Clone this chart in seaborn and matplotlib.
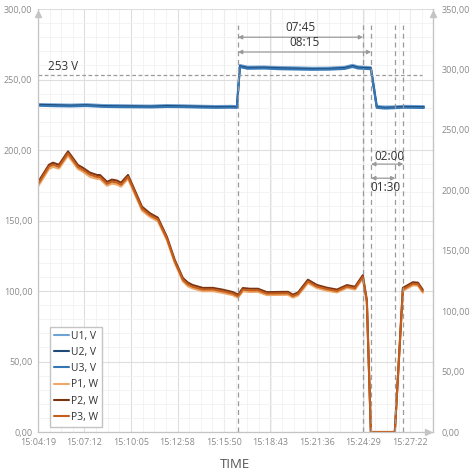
import numpy as np
import pandas as pd
import matplotlib
matplotlib.use("Agg")
import matplotlib.pyplot as plt
import seaborn as sns
from matplotlib.ticker import MultipleLocator, AutoMinorLocator, FuncFormatter

# time in seconds after 15:04:19
tick_labels = ["15:04:19", "15:07:12", "15:10:05", "15:12:58", "15:15:50",
               "15:18:43", "15:21:36", "15:24:29", "15:27:22"]

t_u = [0, 60, 120, 180, 240, 300, 360, 420, 480, 540, 600, 660, 720, 740,
       751, 780, 840, 900, 960, 1020, 1080, 1140, 1170, 1190, 1238, 1260,
       1290, 1320, 1360, 1400, 1435]
U1 = [232.6, 232.4, 232.2, 232.5, 231.9, 231.8, 231.6, 231.5, 231.9, 231.7, 231.4,
      231.2, 231.3, 231.1, 260.3, 259.1, 259.2, 258.8, 258.6, 258.3, 258.4, 259.0,
      260.4, 259.3, 258.7, 231.2, 230.8, 230.9, 231.3, 231.2, 231.1]
U2 = [232.0, 231.8, 231.5, 231.8, 231.2, 231.0, 231.0, 230.8, 231.2, 231.0, 230.8,
      230.5, 230.6, 230.5, 259.5, 258.3, 258.5, 258.0, 257.8, 257.5, 257.6, 258.2,
      259.6, 258.5, 258.0, 230.5, 230.0, 230.2, 230.6, 230.5, 230.4]
U3 = [231.4, 231.1, 230.9, 231.2, 230.6, 230.4, 230.3, 230.2, 230.5, 230.4, 230.1,
      229.9, 230.0, 229.9, 258.8, 257.6, 257.8, 257.3, 257.1, 256.9, 257.0, 257.5,
      258.9, 257.8, 257.3, 229.9, 229.4, 229.6, 230.0, 229.9, 229.8]

t_p = [0, 41, 56, 78, 112, 149, 167, 193, 219, 231, 257, 275, 294, 309, 335,
       387, 416, 446, 480, 509, 539, 558, 576, 613, 651, 688, 725, 744, 762,
       788, 818, 851, 889, 930, 948, 967, 1004, 1037, 1075, 1112, 1149, 1179,
       1208, 1223, 1238, 1327, 1357, 1394, 1413, 1431]
P1 = [174.0, 186.5, 188.0, 186.8, 196.0, 186.5, 184.6, 181.0, 179.5, 179.4, 174.6,
      176.2, 175.5, 174.0, 179.6, 157.0, 152.6, 149.4, 135.8, 119.8, 106.8, 103.3,
      101.8, 99.8, 99.9, 98.6, 97.0, 95.2, 99.8, 99.3, 99.4, 97.1, 97.2, 97.3, 95.3,
      96.8, 105.6, 102.1, 100.2, 99.0, 102.2, 101.0, 108.8, 91.8, 0.0, 0.0, 100.0,
      104.0, 103.8, 98.8]
P2 = [177.0, 189.5, 191.0, 189.5, 199.0, 189.3, 187.4, 184.0, 182.3, 182.2, 177.4,
      179.0, 178.3, 176.8, 182.3, 159.8, 155.2, 152.0, 138.2, 122.0, 109.2, 105.9,
      104.2, 102.2, 102.2, 100.9, 99.2, 97.4, 102.1, 101.6, 101.6, 99.2, 99.3, 99.4,
      97.4, 98.9, 108.0, 104.3, 102.3, 101.0, 104.2, 103.0, 111.2, 93.6, 0.0, 0.0,
      102.2, 106.2, 105.9, 100.9]
P3 = [175.6, 188.2, 189.6, 188.1, 197.6, 187.9, 186.0, 182.6, 180.9, 180.8, 176.0,
      177.6, 176.9, 175.4, 180.9, 158.4, 153.9, 150.7, 137.0, 120.9, 108.0, 104.6,
      103.0, 101.0, 101.1, 99.8, 98.1, 96.3, 101.0, 100.5, 100.5, 98.2, 98.3, 98.4,
      96.4, 97.9, 106.8, 103.2, 101.3, 100.0, 103.2, 102.0, 110.0, 92.7, 0.0, 0.0,
      101.1, 105.1, 104.8, 99.8]

limit_v = 253
t_on = 744          # switch on
d_off1, d_off2 = 465, 495
d_r1, d_r2 = 90, 120

def secs(s):
    h, m, x = (int(v) for v in s.split(":"))
    return (h * 3600 + m * 60 + x) - (15 * 3600 + 4 * 60 + 19)

tick_pos = [secs(s) for s in tick_labels]

names = ["U1, V", "U2, V", "U3, V", "P1, W", "P2, W", "P3, W"]
colors = ["#6fa3d4", "#1f4a78", "#3577b5", "#f0a868", "#7a3412", "#c45e1c"]

frames = []
for n, t, v in zip(names, [t_u, t_u, t_u, t_p, t_p, t_p], [U1, U2, U3, P1, P2, P3]):
    frames.append(pd.DataFrame({"t": t, "val": v, "series": n}))
df = pd.concat(frames, ignore_index=True)

sns.set_style("white")
plt.rcParams["font.family"] = ["Open Sans", "DejaVu Sans"]

fig = plt.figure(figsize=(4.74, 4.74), dpi=100)
ax = fig.add_axes([0.080, 0.0886, 0.8335, 0.8924])

sns.lineplot(data=df, x="t", y="val", hue="series", palette=dict(zip(names, colors)),
             linewidth=1.5, ax=ax, estimator=None, sort=False)

ax.set_xlim(0, 1469)
ax.set_ylim(0, 300)
ax.set_xticks(tick_pos)
ax.set_xticklabels(tick_labels)
ax.yaxis.set_major_locator(MultipleLocator(50))
ax.yaxis.set_major_formatter(FuncFormatter(lambda v, p: f"{v:.2f}".replace(".", ",")))
ax.yaxis.set_minor_locator(AutoMinorLocator(5))
ax.xaxis.set_minor_locator(AutoMinorLocator(4))
ax.grid(which="major", color="#dedede", linewidth=0.8)
ax.grid(which="minor", color="#f1f1f1", linewidth=0.6)
ax.set_axisbelow(True)
ax.tick_params(axis="both", which="both", length=0, labelsize=6.5, labelcolor="#8a8a8a", pad=4)
ax.set_xlabel("TIME", fontsize=9.5, color="#555555", labelpad=8)
ax.set_ylabel("")
for s in ["left", "bottom", "right"]:
    ax.spines[s].set_color("#c4c4c4")
    ax.spines[s].set_linewidth(0.9)
ax.spines["top"].set_visible(False)

ax2 = ax.twinx()
ax2.set_ylim(0, 350)
ax2.yaxis.set_major_locator(MultipleLocator(50))
ax2.yaxis.set_major_formatter(FuncFormatter(lambda v, p: f"{v:.2f}".replace(".", ",")))
ax2.tick_params(axis="y", length=0, labelsize=6.5, labelcolor="#8a8a8a", pad=6)
for s in ["left", "bottom", "top"]:
    ax2.spines[s].set_visible(False)
ax2.spines["right"].set_color("#c4c4c4")

# axis arrows
ax.plot(0, 0.988, marker="^", color="#c4c4c4", markersize=4, transform=ax.transAxes, clip_on=False)
ax.plot(0.987, 0, marker=">", color="#c4c4c4", markersize=4, transform=ax.transAxes, clip_on=False)
ax.plot(1, 0.988, marker="^", color="#c4c4c4", markersize=4, transform=ax.transAxes, clip_on=False)

# limit line
ax.plot([0, 1428], [limit_v, limit_v], ls="--", color="#9a9a9a", lw=0.9, dashes=(3, 2))
ax.text(38, limit_v + 1.5, "253 V", fontsize=8.5, color="#333333", va="bottom")

# event lines
events = [t_on, t_on + d_off1, t_on + d_off2, t_on + d_off2 + d_r1, t_on + d_off2 + d_r2]
for e in events:
    ax.plot([e, e], [0, 289], ls="--", color="#9a9a9a", lw=0.9, dashes=(4, 3))

arrow = dict(arrowstyle="<|-|>", color="#9a9a9a", lw=0.9, mutation_scale=6,
             shrinkA=0, shrinkB=0)
spans = [(t_on, t_on + d_off1, 280, "07:45", 282, "bottom"),
         (t_on, t_on + d_off2, 269.5, "08:15", 271.5, "bottom"),
         (t_on + d_off2, t_on + d_off2 + d_r2, 190, "02:00", 191, "bottom"),
         (t_on + d_off2, t_on + d_off2 + d_r1, 180, "01:30", 178, "top")]
for a, b, y, lab, ty, va in spans:
    ax.annotate("", xy=(b, y), xytext=(a, y), arrowprops=arrow)
    ax.text((a + b) / 2 + (8 if lab in ("02:00", "01:30") else 0), ty, lab,
            fontsize=8.5, color="#333333", ha="center", va=va)

leg = ax.legend(loc="lower left", bbox_to_anchor=(0.03, 0.012), borderaxespad=0,
                fontsize=7.5, handlelength=1.4, handletextpad=0.25, labelspacing=0.5,
                fancybox=False, edgecolor="#c4c4c4", framealpha=1, borderpad=0.4)
for t in leg.get_texts():
    t.set_color("#333333")

fig.savefig("out.png", dpi=100)
